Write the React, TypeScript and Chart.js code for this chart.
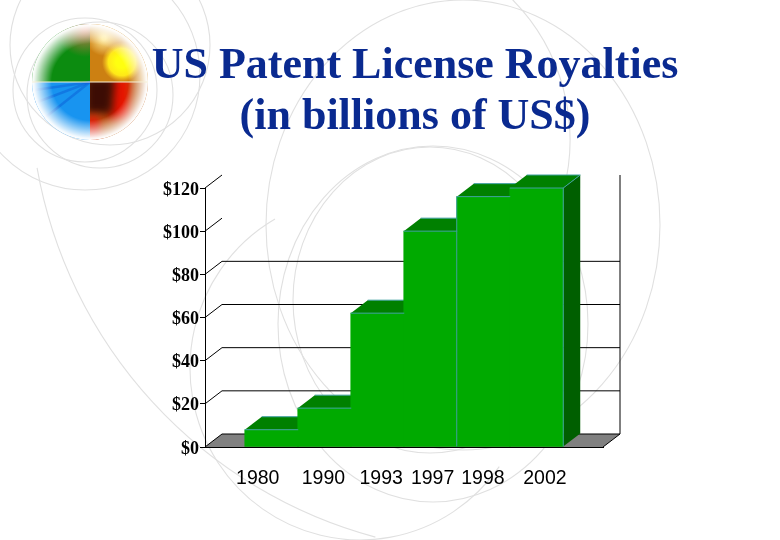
import { useEffect, useRef } from "react"
import { Chart, registerables } from "chart.js"
Chart.register(...registerables)

const YEARS = ["1980", "1990", "1993", "1997", "1998", "2002"]
const ROYALTIES = [8, 18, 62, 100, 116, 120]
const VALUE_TICKS = [0, 20, 40, 60, 80, 100, 120]
// the year labels sit a little off the bar centres in the original
const YEAR_LABEL_AT = [-0.26, 0.98, 2.07, 3.04, 3.99, 5.16]
const TITLE_LINES = ["US Patent License Royalties", "(in billions of US$)"]

const DEPTH_X = 17
const DEPTH_Y = 13
const GREEN_FRONT = "#00aa00"
const GREEN_TOP = "#008000"
const GREEN_SIDE = "#005f00"
const EDGE = "#3f9f9f"

function quad(ctx: CanvasRenderingContext2D, pts: number[][], fill: string) {
  ctx.beginPath()
  pts.forEach((p, i) => (i ? ctx.lineTo(p[0], p[1]) : ctx.moveTo(p[0], p[1])))
  ctx.closePath()
  ctx.fillStyle = fill
  ctx.fill()
}

function line(ctx: CanvasRenderingContext2D, x0: number, y0: number, x1: number, y1: number) {
  ctx.beginPath()
  ctx.moveTo(x0, y0)
  ctx.lineTo(x1, y1)
  ctx.stroke()
}

// faint rings behind the slide: cx, cy, rx, ry, start deg, end deg
const RINGS = [
  [85, 75, 115, 115, 0, 360],
  [100, 95, 73, 73, 0, 360],
  [110, 45, 100, 100, 0, 360],
  [85, 90, 72, 72, 0, 360],
  [496, 87, 466, 466, 105, 170],
  [463, 225, 197, 225, 0, 360],
  [433, 324, 155, 178, 0, 360],
  [430, 300, 137, 153, 0, 360],
  [360, 368, 170, 172, 35, 240],
  [370, 140, 200, 200, -45, 15],
]

function drawRings(ctx: CanvasRenderingContext2D) {
  ctx.save()
  ctx.strokeStyle = "#e0e0e0"
  ctx.lineWidth = 1.1
  RINGS.forEach(([cx, cy, rx, ry, a, b]) => {
    ctx.beginPath()
    ctx.ellipse(cx, cy, rx, ry, 0, (a * Math.PI) / 180, (b * Math.PI) / 180)
    ctx.stroke()
  })
  ctx.restore()
}

function drawLogo(ctx: CanvasRenderingContext2D) {
  const cx = 90
  const cy = 82
  const r = 58
  ctx.save()
  ctx.beginPath()
  ctx.arc(cx, cy, r, 0, Math.PI * 2)
  ctx.clip()

  // top left: green with a pink corner
  quad(ctx, [[cx - r, cy - r], [cx, cy - r], [cx, cy], [cx - r, cy]], "#0c8c10")
  let g = ctx.createRadialGradient(cx - 5, cy - 55, 2, cx - 5, cy - 55, 30)
  g.addColorStop(0, "#e08060")
  g.addColorStop(1, "rgba(200,110,70,0)")
  ctx.fillStyle = g
  ctx.fillRect(cx - r, cy - r, r, r)

  // top right: amber with a yellow glow
  quad(ctx, [[cx, cy - r], [cx + r, cy - r], [cx + r, cy], [cx, cy]], "#cc8012")
  g = ctx.createRadialGradient(cx + 32, cy - 20, 6, cx + 32, cy - 20, 20)
  g.addColorStop(0, "#ffff10")
  g.addColorStop(0.55, "#ffe818")
  g.addColorStop(1, "rgba(255,210,40,0)")
  ctx.fillStyle = g
  ctx.fillRect(cx, cy - r, r, r)
  g = ctx.createRadialGradient(cx + 14, cy - 44, 2, cx + 14, cy - 44, 18)
  g.addColorStop(0, "#ffe890")
  g.addColorStop(1, "rgba(255,225,140,0)")
  ctx.fillStyle = g
  ctx.fillRect(cx, cy - r, r, r)

  // bottom left: blue with soft rays
  quad(ctx, [[cx - r, cy], [cx, cy], [cx, cy + r], [cx - r, cy + r]], "#1894f0")
  ctx.strokeStyle = "rgba(12,98,216,0.55)"
  ctx.lineWidth = 2.5
  ;[[-55, 8], [-58, 22], [-48, 38]].forEach(([dx, dy]) => line(ctx, cx, cy, cx + dx, cy + dy))

  // bottom right: dark brown, red stripe, orange rim
  quad(ctx, [[cx, cy], [cx + r, cy], [cx + r, cy + r], [cx, cy + r]], "#b85a10")
  ctx.save()
  ctx.beginPath()
  ctx.rect(cx, cy, r, r)
  ctx.clip()
  ctx.filter = "blur(4px)"
  quad(ctx, [[cx + 18, cy - 5], [cx + 40, cy - 5], [cx + 40, cy + 38], [cx + 18, cy + 38]], "#e81400")
  quad(ctx, [[cx - 5, cy - 5], [cx + 25, cy - 5], [cx + 22, cy + 32], [cx - 5, cy + 32]], "#3c0c04")
  quad(ctx, [[cx - 5, cy + 34], [cx + 10, cy + 34], [cx + 10, cy + 62], [cx - 5, cy + 62]], "#e01808")
  ctx.restore()

  // white rim fade
  g = ctx.createRadialGradient(cx, cy, r * 0.66, cx, cy, r)
  g.addColorStop(0, "rgba(255,255,255,0)")
  g.addColorStop(0.9, "rgba(255,255,255,0.95)")
  g.addColorStop(1, "rgba(255,255,255,1)")
  ctx.fillStyle = g
  ctx.fillRect(cx - r, cy - r, r * 2, r * 2)

  ctx.strokeStyle = "#f6f0d8"
  ctx.lineWidth = 1.2
  line(ctx, cx - r, cy, cx + r, cy)
  ctx.restore()
}

const slidePlugin = {
  id: "slide",
  beforeDraw(chart: any) {
    const { ctx, scales } = chart
    const y = scales.y
    const left = chart.chartArea.left
    const right = chart.chartArea.right
    const base = y.getPixelForValue(0)
    const top = y.getPixelForValue(VALUE_TICKS[VALUE_TICKS.length - 1])

    ctx.save()
    ctx.fillStyle = "#fff"
    ctx.fillRect(0, 0, chart.width, chart.height)
    drawRings(ctx)
    drawLogo(ctx)

    // floor
    quad(ctx, [[left, base], [left + DEPTH_X, base - DEPTH_Y], [right + DEPTH_X, base - DEPTH_Y], [right, base]], "#808080")

    ctx.strokeStyle = "#000"
    ctx.lineWidth = 1
    // only the lower gridlines carry across the back wall
    VALUE_TICKS.forEach((v) => {
      const py = y.getPixelForValue(v)
      line(ctx, left, py, left + DEPTH_X, py - DEPTH_Y)
      if (v <= 80) line(ctx, left + DEPTH_X, py - DEPTH_Y, right + DEPTH_X, py - DEPTH_Y)
    })
    line(ctx, right + DEPTH_X, top - DEPTH_Y, right + DEPTH_X, base - DEPTH_Y)
    line(ctx, right, base, right + DEPTH_X, base - DEPTH_Y)
    ctx.restore()
  },
  beforeDatasetsDraw(chart: any) {
    const { ctx } = chart
    const bars = chart.getDatasetMeta(0).data
    ctx.save()
    bars.forEach((b: any, i: number) => {
      const x0 = b.x - b.width / 2
      const x1 = b.x + b.width / 2
      if (i === bars.length - 1) {
        quad(ctx, [[x1, b.y], [x1 + DEPTH_X, b.y - DEPTH_Y], [x1 + DEPTH_X, b.base - DEPTH_Y], [x1, b.base]], GREEN_SIDE)
      }
      quad(ctx, [[x0, b.y], [x0 + DEPTH_X, b.y - DEPTH_Y], [x1 + DEPTH_X, b.y - DEPTH_Y], [x1, b.y]], GREEN_TOP)
      ctx.strokeStyle = EDGE
      ctx.lineWidth = 1
      line(ctx, x0 + DEPTH_X, b.y - DEPTH_Y, x1 + DEPTH_X, b.y - DEPTH_Y)
    })
    ctx.restore()
  },
  afterDatasetsDraw(chart: any) {
    const { ctx } = chart
    const bars = chart.getDatasetMeta(0).data
    ctx.save()
    ctx.strokeStyle = EDGE
    ctx.lineWidth = 1
    bars.forEach((b: any, i: number) => {
      const x0 = b.x - b.width / 2
      const x1 = b.x + b.width / 2
      line(ctx, x0, b.y, x1, b.y)
      if (i === bars.length - 2) line(ctx, x0, b.y, x0, b.base)
      if (i === bars.length - 1) {
        line(ctx, x1, b.y, x1, b.base)
        line(ctx, x1, b.y, x1 + DEPTH_X, b.y - DEPTH_Y)
      }
    })
    ctx.restore()
  },
  afterDraw(chart: any) {
    const { ctx } = chart
    ctx.save()
    ctx.fillStyle = "#0a2a90"
    ctx.font = "bold 44px 'Liberation Serif'"
    ctx.textAlign = "center"
    ctx.textBaseline = "alphabetic"
    ctx.fillText(TITLE_LINES[0], 415, 78)
    ctx.fillText(TITLE_LINES[1], 415, 129)
    ctx.restore()
  },
}

export default function App() {
  const canvasRef = useRef<HTMLCanvasElement>(null)

  useEffect(() => {
    const canvas = canvasRef.current
    if (!canvas) return

    const chart = new Chart(canvas, {
      type: "bar",
      data: {
        datasets: [{
          data: ROYALTIES.map((v, i) => ({ x: i, y: v })),
          backgroundColor: GREEN_FRONT,
          // fixed width, the off-centre year ticks would otherwise shrink the bars
          barThickness: 53.5,
        }],
      },
      options: {
        responsive: false,
        animation: false,
        layout: { padding: { top: 188, right: 177, left: 0, bottom: 0 } },
        plugins: { legend: { display: false }, tooltip: { enabled: false }, title: { display: false } },
        scales: {
          x: {
            type: "linear",
            z: 1,
            offset: false,
            min: -1.255,
            max: 6.255,
            grid: { display: false },
            border: { display: true, color: "#000", width: 1 },
            afterBuildTicks: (scale: any) => {
              scale.ticks = YEAR_LABEL_AT.map((value) => ({ value }))
            },
            afterFit: (scale: any) => {
              scale.height = 93
            },
            ticks: {
              autoSkip: false,
              maxRotation: 0,
              padding: 12,
              color: "#000",
              font: { family: "'Liberation Sans'", size: 19.5 },
              callback: (_v: any, i: number) => YEARS[i],
            },
          },
          y: {
            min: 0,
            max: 120,
            grid: { drawOnChartArea: false, drawTicks: true, tickLength: 5, color: "#000" },
            border: { display: true, color: "#000", width: 1 },
            afterFit: (scale: any) => {
              scale.width = 205
            },
            afterBuildTicks: (scale: any) => {
              scale.ticks = VALUE_TICKS.map((value) => ({ value }))
            },
            ticks: {
              padding: 1,
              labelOffset: 2,
              color: "#000",
              font: { family: "'Liberation Serif'", size: 18, weight: "bold" },
              callback: (v: any) => `$${v}`,
            },
          },
        },
      },
      plugins: [slidePlugin],
    } as any)

    return () => chart.destroy()
  }, [])

  return (
    <div style={{ position: "absolute", left: 0, top: 0, width: 780, height: 540, background: "#fff" }}>
      <canvas ref={canvasRef} width={780} height={540} role="img" aria-label="US patent license royalties, in billions of US dollars" />
    </div>
  )
}
